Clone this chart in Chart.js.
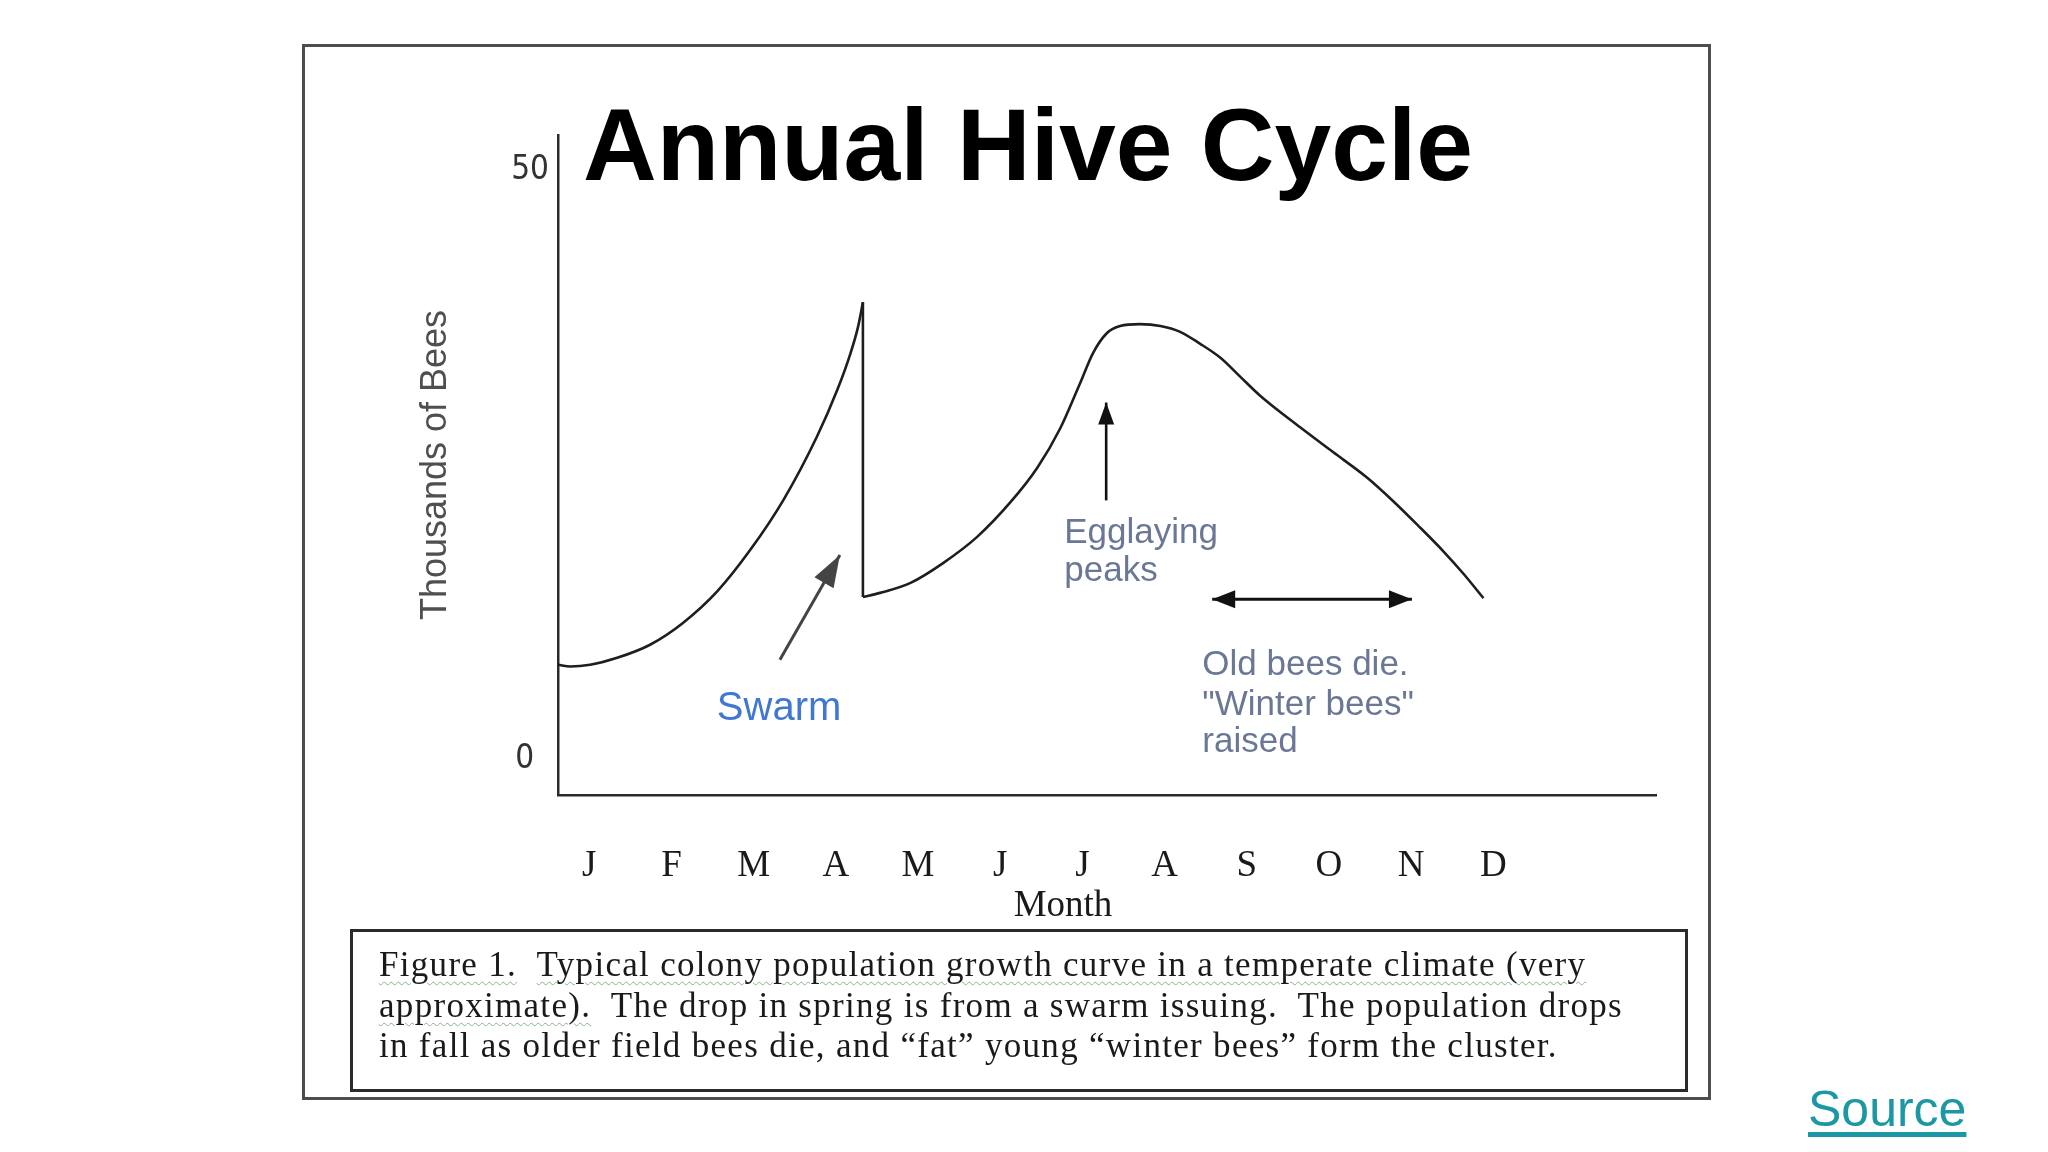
<!DOCTYPE html>
<html>
<head>
<meta charset="utf-8">
<title>Annual Hive Cycle</title>
<script src="https://cdn.jsdelivr.net/npm/chart.js@4.4.0/dist/chart.umd.min.js"></script>
<style>
  html, body { margin: 0; padding: 0; background: #fff; }
  #page { position: relative; width: 2048px; height: 1152px; overflow: hidden; background: #fff; }
  #frame { position: absolute; left: 302px; top: 44px; width: 1409px; height: 1056px; box-sizing: border-box; border: 3px solid #4d4d4d; }
  #hiveChart { position: absolute; left: 0; top: 0; }
  #title { position: absolute; left: 528px; top: 94px; width: 1000px; text-align: center; font: bold 102px 'Liberation Sans', Arial, sans-serif; line-height: 1; color: #000; }
  #monthTitle { position: absolute; left: 963px; top: 885px; width: 200px; text-align: center; font: 37px 'Liberation Serif', 'Times New Roman', serif; line-height: 1; color: #1a1a1a; }
  #caption { position: absolute; left: 350px; top: 929px; width: 1338px; height: 163px; box-sizing: border-box; border: 3px solid #2b2b2b; padding: 13px 0 0 26px; font: 35px 'Liberation Serif', 'Times New Roman', serif; letter-spacing: 1.3px; line-height: 40.5px; color: #1a1a1a; white-space: pre; }
  .squiggle { text-decoration: underline wavy #86b486; text-decoration-thickness: 1px; text-underline-offset: 5px; }
  #source { position: absolute; left: 1808px; top: 1084px; font: 50px 'Liberation Sans', Arial, sans-serif; line-height: 1; color: #1c98a4; text-decoration: underline; text-underline-offset: 6px; }
</style>
</head>
<body>
<div id="page">
  <div id="frame"></div>
  <canvas id="hiveChart" width="2048" height="1152"></canvas>
  <div id="title">Annual Hive Cycle</div>
  <div id="monthTitle">Month</div>
  <div id="caption"><span class="squiggle">Figure 1.</span>  <span class="squiggle">Typical colony population growth curve in a temperate climate (very</span>
<span class="squiggle">approximate).</span>  The drop in spring is from a swarm issuing.  The population drops
in fall as older field bees die, and “fat” young “winter bees” form the cluster.</div>
  <div id="source">Source</div>
</div>
<script>
// months along the bottom, one tick per month
const monthLabels = ['J', 'F', 'M', 'A', 'M', 'J', 'J', 'A', 'S', 'O', 'N', 'D'];
const monthTicks = [0, 1, 2, 3, 4, 5, 6, 7, 8, 9, 10, 11];
const beeTicks = [0, 50];

// thousands of bees (x in months, J = 0)
const springX = [-0.38, -0.23, 0.01, 0.34, 0.74, 1.14, 1.56, 1.96, 2.36, 2.77, 3.02, 3.18, 3.27, 3.33];
const springY = [8.05, 7.9, 8.05, 8.64, 9.75, 11.6, 14.3, 17.8, 22.0, 27.4, 31.4, 34.5, 36.7, 38.8];

const swarmDropX = [3.33, 3.33];
const swarmDropY = [38.8, 13.8];

const summerX = [3.33, 3.54, 3.91, 4.31, 4.72, 5.12, 5.45, 5.73, 5.97, 6.13, 6.30, 6.46, 6.70, 6.95, 7.19, 7.43, 7.68, 7.92, 8.16, 8.65, 9.05, 9.47, 9.78, 10.08, 10.39, 10.64, 10.88];
const summerY = [13.8, 14.15, 15.0, 16.7, 18.9, 21.8, 24.75, 28.1, 31.9, 34.5, 36.2, 36.8, 36.95, 36.8, 36.3, 35.3, 34.1, 32.5, 30.9, 28.2, 26.1, 23.9, 21.95, 19.9, 17.7, 15.75, 13.7];

// arrows drawn on the plot, in data units
const swarmArrowX = [2.32, 3.05];
const swarmArrowY = [8.47, 17.37];
const eggArrowX = [6.29, 6.29];
const eggArrowY = [22.0, 30.3];
const winterArrowX = [7.58, 10.01];
const winterArrowY = [13.6, 13.6];

// text notes on the plot
const swarmNote = { text: 'Swarm', x: 2.31, y: 4.28 };
const eggNotes = ['Egglaying', 'peaks'];
const eggNoteX = 5.78;
const eggNoteY = [19.24, 16.0];
const winterNotes = ['Old bees die.', '"Winter bees"', 'raised'];
const winterNoteX = 7.46;
const winterNoteY = [7.96, 4.64, 1.43];

function toPoints(xs, ys) {
  return xs.map((x, i) => ({ x: x, y: ys[i] }));
}

function curveDataset(xs, ys) {
  return {
    data: toPoints(xs, ys),
    borderColor: '#1e1e1e',
    borderWidth: 2.6,
    pointRadius: 0,
    cubicInterpolationMode: 'monotone',
    fill: false
  };
}

function drawHead(ctx, tipX, tipY, fromX, fromY, len, half, color) {
  const angle = Math.atan2(tipY - fromY, tipX - fromX);
  ctx.save();
  ctx.translate(tipX, tipY);
  ctx.rotate(angle);
  ctx.beginPath();
  ctx.moveTo(0, 0);
  ctx.lineTo(-len, -half);
  ctx.lineTo(-len, half);
  ctx.closePath();
  ctx.fillStyle = color;
  ctx.fill();
  ctx.restore();
}

function drawArrow(ctx, x, y, xs, ys, opts) {
  const x0 = x.getPixelForValue(xs[0]);
  const y0 = y.getPixelForValue(ys[0]);
  const x1 = x.getPixelForValue(xs[1]);
  const y1 = y.getPixelForValue(ys[1]);
  ctx.beginPath();
  ctx.moveTo(x0, y0);
  ctx.lineTo(x1, y1);
  ctx.strokeStyle = opts.color;
  ctx.lineWidth = opts.width;
  ctx.stroke();
  drawHead(ctx, x1, y1, x0, y0, opts.len, opts.half, opts.color);
  if (opts.both) {
    drawHead(ctx, x0, y0, x1, y1, opts.len, opts.half, opts.color);
  }
}

const hiveNotes = {
  id: 'hiveNotes',
  afterDatasetsDraw(chart) {
    const { ctx, scales: { x, y } } = chart;
    ctx.save();

    drawArrow(ctx, x, y, swarmArrowX, swarmArrowY, { color: '#444', width: 3, len: 32, half: 11 });
    drawArrow(ctx, x, y, eggArrowX, eggArrowY, { color: '#111', width: 2.6, len: 22, half: 8 });
    drawArrow(ctx, x, y, winterArrowX, winterArrowY, { color: '#111', width: 3, len: 23, half: 9, both: true });

    ctx.textBaseline = 'middle';
    ctx.textAlign = 'center';
    ctx.fillStyle = '#3f77d3';
    ctx.font = '40px "Liberation Sans", Arial, sans-serif';
    ctx.fillText(swarmNote.text, x.getPixelForValue(swarmNote.x), y.getPixelForValue(swarmNote.y));

    ctx.textAlign = 'left';
    ctx.fillStyle = '#6a7896';
    ctx.font = '35px "Liberation Sans", Arial, sans-serif';
    eggNotes.forEach((line, i) => {
      ctx.fillText(line, x.getPixelForValue(eggNoteX), y.getPixelForValue(eggNoteY[i]));
    });
    winterNotes.forEach((line, i) => {
      ctx.fillText(line, x.getPixelForValue(winterNoteX), y.getPixelForValue(winterNoteY[i]));
    });

    ctx.restore();
  }
};

new Chart(document.getElementById('hiveChart'), {
  type: 'line',
  data: {
    datasets: [
      curveDataset(springX, springY),
      curveDataset(swarmDropX, swarmDropY),
      curveDataset(summerX, summerY)
    ]
  },
  options: {
    responsive: false,
    animation: false,
    layout: { padding: { left: 380, top: 135, right: 392, bottom: 217 } },
    plugins: {
      legend: { display: false },
      tooltip: { enabled: false },
      title: { display: false }
    },
    scales: {
      x: {
        type: 'linear',
        min: -0.38,
        max: 12.98,
        grid: { display: false, drawTicks: false },
        border: { display: true, color: '#2a2a2a', width: 2.5 },
        afterBuildTicks: (scale) => {
          scale.ticks = monthTicks.map((v) => ({ value: v }));
        },
        afterFit: (scale) => { scale.height = 140; },
        ticks: {
          autoSkip: false,
          maxRotation: 0,
          minRotation: 0,
          padding: 49,
          color: '#1a1a1a',
          font: { family: "'Liberation Serif', 'Times New Roman', serif", size: 37 },
          callback: (value) => monthLabels[Math.round(value)]
        }
      },
      y: {
        type: 'linear',
        min: -3,
        max: 53,
        grid: { display: false, drawTicks: false },
        border: { display: true, color: '#2a2a2a', width: 2.5 },
        afterBuildTicks: (scale) => {
          scale.ticks = beeTicks.map((v) => ({ value: v }));
        },
        afterFit: (scale) => { scale.width = 178; },
        ticks: {
          padding: 9,
          color: '#333',
          font: { family: "'Liberation Sans Narrow', 'DejaVu Sans Condensed', sans-serif", size: 33 },
          // the zero sits a little left of the fifty in the original
          callback: (value) => (value === 0 ? '0\u2002' : String(value))
        },
        title: {
          display: true,
          text: 'Thousands of Bees',
          color: '#4f4f4f',
          padding: { top: 34, bottom: 0 },
          font: { family: "'Liberation Sans', Arial, sans-serif", size: 36 }
        }
      }
    }
  },
  plugins: [hiveNotes]
});
</script>
</body>
</html>
